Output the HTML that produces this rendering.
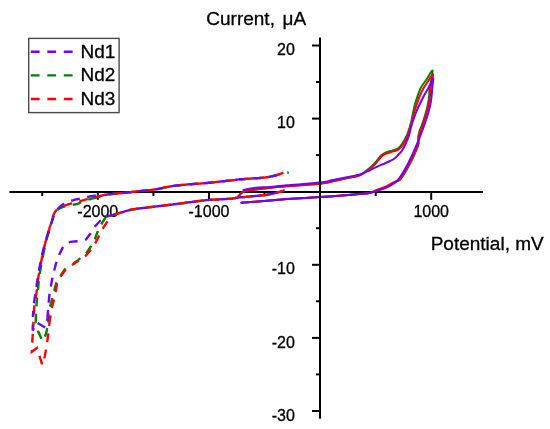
<!DOCTYPE html>
<html><head><meta charset="utf-8"><title>Cyclic voltammogram</title>
<style>html,body{margin:0;padding:0;background:#fff;}svg{display:block;}</style></head>
<body><svg width="550" height="429" viewBox="0 0 550 429">
<rect width="550" height="429" fill="#fff"/>
<line x1="9.5" y1="192" x2="483" y2="192" stroke="#000" stroke-width="2"/>
<line x1="97.8" y1="192" x2="97.8" y2="199.8" stroke="#000" stroke-width="2"/>
<line x1="209.0" y1="192" x2="209.0" y2="199.8" stroke="#000" stroke-width="2"/>
<line x1="431.2" y1="192" x2="431.2" y2="199.8" stroke="#000" stroke-width="2"/>
<line x1="42.2" y1="192" x2="42.2" y2="196" stroke="#000" stroke-width="2"/>
<line x1="153.4" y1="192" x2="153.4" y2="196" stroke="#000" stroke-width="2"/>
<line x1="264.5" y1="192" x2="264.5" y2="196" stroke="#000" stroke-width="2"/>
<line x1="375.7" y1="192" x2="375.7" y2="196" stroke="#000" stroke-width="2"/>
<text x="97.8" y="216.6" font-family="'Liberation Sans', Arial, sans-serif" fill="#000" stroke="#000" stroke-width="0.3" font-size="16" text-anchor="middle">-2000</text>
<text x="209.0" y="216.6" font-family="'Liberation Sans', Arial, sans-serif" fill="#000" stroke="#000" stroke-width="0.3" font-size="16" text-anchor="middle">-1000</text>
<text x="431.2" y="216.6" font-family="'Liberation Sans', Arial, sans-serif" fill="#000" stroke="#000" stroke-width="0.3" font-size="16" text-anchor="middle">1000</text>
<text x="294.8" y="55.1" font-family="'Liberation Sans', Arial, sans-serif" fill="#000" stroke="#000" stroke-width="0.3" font-size="16" text-anchor="end">20</text>
<text x="294.8" y="128.2" font-family="'Liberation Sans', Arial, sans-serif" fill="#000" stroke="#000" stroke-width="0.3" font-size="16" text-anchor="end">10</text>
<text x="294.8" y="274.4" font-family="'Liberation Sans', Arial, sans-serif" fill="#000" stroke="#000" stroke-width="0.3" font-size="16" text-anchor="end">-10</text>
<text x="294.8" y="347.5" font-family="'Liberation Sans', Arial, sans-serif" fill="#000" stroke="#000" stroke-width="0.3" font-size="16" text-anchor="end">-20</text>
<text x="294.8" y="420.6" font-family="'Liberation Sans', Arial, sans-serif" fill="#000" stroke="#000" stroke-width="0.3" font-size="16" text-anchor="end">-30</text>
<text x="206.3" y="25.4" font-family="'Liberation Sans', Arial, sans-serif" fill="#000" stroke="#000" stroke-width="0.3" font-size="19">Current,</text>
<text x="282.5" y="25.2" font-family="'Liberation Sans', Arial, sans-serif" fill="#000" stroke="#000" stroke-width="0.3" font-size="19">&#956;A</text>
<text x="430.7" y="249.8" font-family="'Liberation Sans', Arial, sans-serif" fill="#000" stroke="#000" stroke-width="0.3" font-size="19">Potential, mV</text>
<path d="M288.8,172.7 288.4,172.7 287.9,172.6 287.3,172.5 286.6,172.5 285.9,172.4 285.1,172.4 284.3,172.5 283.5,172.6 283.0,172.7 282.4,172.9 281.8,173.1 281.3,173.3 280.7,173.6 280.1,173.8 279.4,174.1 278.8,174.3 278.1,174.6 277.4,174.8 276.7,175.1 275.9,175.3 275.3,175.5 274.7,175.6 274.1,175.8 273.4,175.9 272.8,176.1 272.1,176.2 271.4,176.4 270.7,176.5 270.0,176.7 269.3,176.8 268.6,176.9 267.9,177.1 267.2,177.2 266.4,177.3 265.7,177.4 265.0,177.5 264.4,177.6 263.7,177.7 263.0,177.7 262.3,177.8 261.6,177.9 260.9,177.9 260.2,178.0 259.5,178.0 258.8,178.1 258.1,178.1 257.4,178.1 256.8,178.2 256.1,178.2 255.4,178.2 254.8,178.3 254.2,178.3 253.6,178.4 253.0,178.4 252.2,178.5 251.4,178.5 250.6,178.6 249.9,178.6 249.2,178.7 248.5,178.7 247.9,178.8 247.2,178.8 246.6,178.9 245.9,178.9 245.3,179.0 244.7,179.0 244.0,179.1 243.2,179.1 242.5,179.2 241.8,179.2 241.1,179.2 240.5,179.3 239.8,179.3 239.2,179.4 238.6,179.4 238.0,179.5 237.3,179.6 236.7,179.7 236.3,179.7 235.8,179.8 235.2,179.9 234.3,180.1 233.2,180.2 232.7,180.3 232.2,180.3 231.6,180.4 231.0,180.4 230.4,180.5 229.8,180.6 229.1,180.6 228.4,180.7 227.7,180.8 227.0,180.8 226.2,180.9 225.5,181.0 224.7,181.1 224.0,181.2 223.2,181.2 222.5,181.3 221.7,181.4 221.0,181.5 220.3,181.5 219.6,181.6 218.9,181.7 218.2,181.7 217.5,181.8 216.9,181.9 216.2,182.0 215.5,182.1 214.8,182.1 214.1,182.2 213.4,182.3 212.8,182.4 212.1,182.5 211.4,182.5 210.7,182.6 210.0,182.7 209.3,182.8 208.6,182.8 208.0,182.9 207.3,183.0 206.6,183.0 205.9,183.1 205.2,183.2 204.5,183.2 203.9,183.3 203.2,183.3 202.5,183.4 201.8,183.4 201.1,183.5 200.5,183.5 199.8,183.6 199.1,183.6 198.4,183.7 197.7,183.7 197.1,183.8 196.4,183.8 195.7,183.8 195.0,183.9 194.3,183.9 193.7,184.0 193.0,184.0 192.3,184.1 191.6,184.2 190.9,184.2 190.2,184.3 189.5,184.3 188.8,184.4 188.1,184.4 187.4,184.5 186.6,184.6 185.9,184.6 185.2,184.7 184.5,184.7 183.8,184.8 183.1,184.9 182.4,184.9 181.8,185.0 181.1,185.0 180.5,185.1 179.8,185.2 179.2,185.2 178.6,185.3 177.8,185.4 177.1,185.5 176.4,185.6 175.7,185.6 175.0,185.7 174.3,185.8 173.7,185.9 173.0,186.0 172.4,186.1 171.8,186.2 171.2,186.3 170.6,186.4 169.9,186.5 169.3,186.6 168.7,186.7 168.0,186.8 167.4,186.9 166.7,187.1 166.1,187.2 165.4,187.4 164.8,187.5 164.2,187.6 163.6,187.8 162.9,187.9 162.3,188.1 161.7,188.2 161.1,188.4 160.4,188.5 159.8,188.6 159.1,188.7 158.5,188.8 157.8,189.0 157.2,189.1 156.5,189.2 155.9,189.3 155.3,189.4 154.6,189.5 153.9,189.6 153.2,189.7 152.5,189.8 151.7,189.9 150.9,190.0 150.3,190.1 149.7,190.1 149.1,190.2 148.5,190.3 147.8,190.3 147.2,190.4 146.5,190.4 145.8,190.5 145.1,190.6 144.4,190.6 143.7,190.7 143.0,190.7 142.3,190.8 141.6,190.9 140.9,190.9 140.2,191.0 139.6,191.1 138.9,191.1 138.2,191.2 137.5,191.3 136.9,191.3 136.2,191.4 135.5,191.5 134.9,191.6 134.2,191.7 133.5,191.7 132.9,191.8 132.2,191.9 131.5,192.0 130.9,192.1 130.2,192.2 129.5,192.2 128.8,192.3 128.2,192.4 127.5,192.5 126.8,192.6 126.2,192.6 125.5,192.7 124.8,192.8 124.1,192.8 123.4,192.9 122.7,193.0 122.0,193.0 121.3,193.1 120.6,193.2 119.9,193.2 119.1,193.3 118.4,193.4 117.7,193.4 117.0,193.5 116.4,193.6 115.7,193.6 115.1,193.7 114.4,193.7 113.8,193.8 113.3,193.8 112.7,193.9 111.9,194.0 111.1,194.1 110.4,194.1 109.8,194.2 109.1,194.2 108.5,194.3 107.9,194.3 107.4,194.4 106.8,194.5 106.2,194.6 105.6,194.7 105.0,194.8 104.4,194.9 103.7,195.1 103.1,195.3 102.5,195.5 101.8,195.7 101.2,195.9 100.6,196.2 99.9,196.4 99.3,196.6 98.7,196.8 98.0,197.0 97.4,197.2" fill="none" stroke="#008000" stroke-width="2.4" stroke-dasharray="8.9 7.5" stroke-dashoffset="7.30" stroke-linecap="butt" stroke-linejoin="miter" stroke-miterlimit="3"/>
<path d="M97.4,197.2 96.8,197.4 96.1,197.6 95.5,197.7 94.8,197.9 94.1,198.1 93.5,198.2 92.8,198.4 92.2,198.5 91.5,198.7 90.9,198.9 90.3,199.0 89.7,199.2 89.0,199.4 88.3,199.6 87.6,199.8 87.0,200.0 86.3,200.2 85.7,200.4 85.0,200.6 84.4,200.9 83.8,201.1 83.2,201.3 82.5,201.6 81.9,201.9 81.3,202.2 80.7,202.5 80.1,202.8 79.5,203.1 78.9,203.3 78.3,203.6 77.7,203.8 77.0,204.0 76.4,204.1 75.7,204.3 75.1,204.4 74.4,204.5 73.7,204.6 73.0,204.7 72.3,204.8 71.7,204.9 71.0,205.0 70.4,205.2 69.7,205.3 69.0,205.5 68.3,205.6 67.6,205.7 67.0,205.9 66.3,206.0 65.7,206.2 65.0,206.4 64.4,206.5 63.8,206.7 63.2,206.9 62.6,207.1 62.0,207.3 61.4,207.5 60.8,207.7 60.3,208.0 59.7,208.3 59.1,208.7 58.5,209.1 57.9,209.5 57.3,209.9 56.8,210.3 56.3,210.8 55.9,211.2 55.5,211.7 55.1,212.2 54.8,212.6 54.5,213.2 54.2,213.7 54.0,214.3 53.7,215.0 53.5,215.5 53.3,216.1 53.1,216.7 52.9,217.4 52.7,218.0 52.6,218.7 52.4,219.4 52.2,220.1 52.0,220.8 51.8,221.5 51.6,222.1 51.4,222.8 51.3,223.4 51.1,224.1 50.9,224.8 50.7,225.5 50.5,226.1 50.3,226.8 50.1,227.4 50.0,228.0 49.8,228.6 49.6,229.3 49.4,229.8 49.3,230.4 49.1,230.9 49.0,231.4 48.8,232.0 48.6,232.6 48.4,233.2 48.2,234.0 48.0,234.5 47.9,235.1 47.7,235.7 47.5,236.3 47.3,236.9 47.2,237.5 47.0,238.2 46.8,238.8 46.6,239.5 46.4,240.2 46.2,240.9 46.0,241.7 45.8,242.4 45.6,243.2 45.5,243.8 45.3,244.4 45.2,245.0 45.1,245.6 44.9,246.2 44.8,246.9 44.6,247.5 44.5,248.2 44.4,248.9 44.2,249.5 44.1,250.2 44.0,250.9 43.8,251.6 43.7,252.3 43.5,253.0 43.4,253.7 43.3,254.4 43.1,255.1 43.0,255.8" fill="none" stroke="#008000" stroke-width="2.4" stroke-dasharray="8.9 7.5" stroke-dashoffset="15.75" stroke-linecap="butt" stroke-linejoin="miter" stroke-miterlimit="3"/>
<path d="M43.0,255.8 42.9,256.4 42.7,257.1 42.6,257.8 42.5,258.4 42.4,259.1 42.2,259.8 42.1,260.5 42.0,261.2 41.8,261.8 41.7,262.5 41.6,263.2 41.4,263.9 41.3,264.6 41.2,265.3 41.1,266.0 40.9,266.6 40.8,267.3 40.7,267.9 40.6,268.6 40.5,269.2 40.4,269.8 40.3,270.5 40.2,271.2 40.1,272.0 39.9,272.6 39.8,273.3 39.7,274.0 39.6,274.6 39.5,275.3 39.5,275.9 39.4,276.6 39.3,277.2 39.2,277.8 39.1,278.5 39.0,279.1 39.0,279.7 38.9,280.4 38.8,281.0 38.7,281.7 38.6,282.4 38.6,283.0 38.5,283.7 38.4,284.4 38.4,285.0 38.3,285.7 38.3,286.3 38.2,287.0 38.2,287.6 38.1,288.3 38.1,289.0 38.0,289.6 37.9,290.3 37.9,291.0 37.8,291.7 37.7,292.4 37.7,293.0 37.6,293.7 37.5,294.4 37.4,295.0 37.4,295.7 37.3,296.4 37.2,297.1 37.1,297.8 37.1,298.5 37.0,299.2 36.9,299.9 36.8,300.5 36.8,301.2 36.7,301.9 36.7,302.6 36.6,303.3 36.5,304.0 36.5,304.7 36.5,305.5 36.4,306.3 36.4,307.1 36.3,307.9 36.3,308.7 36.2,309.5 36.2,310.3 36.2,311.0 36.1,311.7 36.1,312.4 36.1,313.0 36.1,313.6 36.0,314.2 36.0,314.6 36.0,315.0 35.7,322.4" fill="none" stroke="#008000" stroke-width="2.4" stroke-dasharray="8.9 7.5" stroke-dashoffset="7.00" stroke-linecap="butt" stroke-linejoin="miter" stroke-miterlimit="3"/>
<path d="M35.7,322.4 38.1,331.3 42.5,341.0 44.6,338.2 46.5,331.7 48.3,322.4" fill="none" stroke="#008000" stroke-width="2.4" stroke-dasharray="8.9 7.5" stroke-dashoffset="7.88" stroke-linecap="butt" stroke-linejoin="miter" stroke-miterlimit="3"/>
<path d="M48.3,322.4 48.5,315.0 49.5,308.0 51.1,303.0 53.8,292.0 56.3,283.0 60.7,275.3 65.6,268.4 71.9,264.4" fill="none" stroke="#008000" stroke-width="2.4" stroke-dasharray="8.9 7.5" stroke-dashoffset="0.50" stroke-linecap="butt" stroke-linejoin="miter" stroke-miterlimit="3"/>
<path d="M71.9,264.4 78.3,259.9 86.0,253.5 90.5,247.0 95.0,238.7 97.6,231.7 101.4,224.0 105.9,216.9" fill="none" stroke="#008000" stroke-width="2.4" stroke-dasharray="8.9 7.5" stroke-dashoffset="14.75" stroke-linecap="butt" stroke-linejoin="miter" stroke-miterlimit="3"/>
<path d="M284.6,190.6 284.2,190.7 283.7,190.8 283.2,191.0 282.5,191.1 281.8,191.3 281.1,191.5 280.3,191.7 279.6,191.9 278.8,192.1 278.0,192.3 277.3,192.5 276.6,192.6 275.9,192.8 275.2,193.0 274.6,193.1 273.9,193.3 273.3,193.5 272.7,193.6 272.0,193.8 271.4,193.9 270.8,194.1 270.2,194.2 269.6,194.4 269.0,194.5 268.4,194.6 267.7,194.7 267.1,194.8 266.5,194.9 265.9,195.0 265.2,195.0 264.6,195.1 264.0,195.2 263.4,195.2 262.7,195.3 262.1,195.3 261.4,195.4 260.8,195.5 260.1,195.5 259.5,195.6 258.8,195.7 258.1,195.7 257.5,195.8 256.8,195.9 256.1,195.9 255.4,196.0 254.7,196.1 254.0,196.1 253.3,196.2 252.7,196.3 252.0,196.3 251.3,196.4 250.7,196.5 250.0,196.5 249.3,196.6 248.6,196.6 247.9,196.7 247.3,196.8 246.6,196.8 246.0,196.9 245.3,196.9 244.7,197.0 244.0,197.1 243.2,197.1 242.5,197.2 241.8,197.2 241.1,197.3 240.4,197.3 239.7,197.4 239.1,197.4 238.5,197.5 237.9,197.5 237.3,197.6 236.6,197.7 236.0,197.8 235.5,198.0 235.0,198.1 234.4,198.2 233.7,198.4 232.7,198.5 232.2,198.6 231.7,198.6 231.1,198.7 230.5,198.7 229.8,198.8 229.2,198.8 228.5,198.9 227.8,198.9 227.0,199.0 226.3,199.0 225.6,199.1 224.8,199.1 224.0,199.2 223.3,199.2 222.5,199.3 221.8,199.3 221.2,199.3 220.5,199.4 219.9,199.4 219.3,199.4 218.6,199.4 218.0,199.5 217.3,199.5 216.7,199.5 216.0,199.5 215.3,199.6 214.7,199.6 214.0,199.6 213.3,199.6 212.6,199.7 211.9,199.7 211.2,199.7 210.5,199.8 209.8,199.8 209.1,199.9 208.4,200.0 207.8,200.0 207.1,200.1 206.5,200.1 205.8,200.2 205.2,200.3 204.5,200.4 203.8,200.4 203.2,200.5 202.5,200.6 201.8,200.7 201.1,200.8 200.4,200.9 199.7,200.9 199.0,201.0 198.3,201.1 197.5,201.2 196.8,201.3 196.0,201.4 195.3,201.5 194.5,201.6 193.9,201.7 193.3,201.8 192.6,201.8 192.0,201.9 191.4,202.0 190.7,202.1 190.1,202.2 189.4,202.3 188.7,202.4 188.1,202.4 187.4,202.5 186.7,202.6 186.0,202.7 185.3,202.8 184.6,202.9 184.0,203.0 183.3,203.1 182.6,203.2 181.9,203.3 181.2,203.4 180.5,203.5 179.8,203.6 179.1,203.6 178.4,203.7 177.8,203.8 177.1,203.9 176.4,204.0 175.7,204.1 175.1,204.2 174.4,204.3 173.7,204.3 173.0,204.4 172.4,204.5 171.7,204.6 171.0,204.7 170.3,204.7 169.7,204.8 169.0,204.9 168.3,205.0 167.6,205.1 167.0,205.2 166.3,205.2 165.6,205.3 164.9,205.4 164.3,205.5 163.6,205.6 162.9,205.6 162.2,205.7 161.6,205.8 160.9,205.9 160.2,206.0 159.5,206.0 158.9,206.1 158.2,206.2 157.5,206.3 156.8,206.4 156.1,206.4 155.4,206.5 154.7,206.6 154.0,206.7 153.3,206.8 152.5,206.9 151.8,207.0 151.1,207.0 150.3,207.1 149.6,207.2 148.9,207.3 148.2,207.4 147.5,207.5 146.8,207.6 146.1,207.6 145.4,207.7 144.7,207.8 144.1,207.9 143.4,208.0 142.8,208.0 142.2,208.1 141.6,208.2 141.1,208.3 140.5,208.3 140.0,208.4 139.1,208.5 138.2,208.6 137.4,208.7 136.7,208.8 136.1,208.9 135.5,209.0 134.9,209.1 134.3,209.2 133.8,209.2 133.2,209.3 132.6,209.4 132.1,209.5 131.5,209.7 130.8,209.8 130.2,209.9 129.5,210.1 128.8,210.3 128.1,210.4 127.5,210.6 126.8,210.8 126.1,211.0 125.4,211.2 124.7,211.4 124.0,211.6 123.4,211.8 122.8,212.0 122.1,212.2 121.6,212.3 121.0,212.5 120.2,212.7 119.5,213.0 118.9,213.2 118.3,213.4 117.7,213.6 117.1,213.8 116.5,214.0 115.9,214.2 115.2,214.4 114.5,214.6 113.9,214.8 113.2,215.0 112.5,215.2 111.7,215.4 111.0,215.6 110.2,215.8 109.4,216.0 108.7,216.2 108.0,216.4 107.3,216.5 106.8,216.7 106.3,216.8 105.9,216.9" fill="none" stroke="#008000" stroke-width="2.4" stroke-dasharray="8.9 7.5" stroke-dashoffset="0.00" stroke-linecap="butt" stroke-linejoin="miter" stroke-miterlimit="3"/>
<path d="M283.5,172.6 283.1,172.7 282.7,172.9 282.2,173.1 281.7,173.3 281.0,173.6 280.4,173.8 279.7,174.1 279.0,174.3 278.2,174.6 277.4,174.8 276.7,175.1 275.9,175.3 275.3,175.5 274.7,175.6 274.1,175.8 273.4,175.9 272.8,176.1 272.1,176.2 271.4,176.4 270.7,176.5 270.0,176.7 269.3,176.8 268.6,176.9 267.9,177.1 267.2,177.2 266.4,177.3 265.7,177.4 265.0,177.5 264.4,177.6 263.7,177.7 263.0,177.7 262.3,177.8 261.6,177.9 260.9,177.9 260.2,178.0 259.5,178.0 258.8,178.1 258.1,178.1 257.4,178.1 256.8,178.2 256.1,178.2 255.4,178.2 254.8,178.3 254.2,178.3 253.6,178.4 253.0,178.4 252.2,178.5 251.4,178.5 250.6,178.6 249.9,178.6 249.2,178.7 248.5,178.7 247.9,178.8 247.2,178.8 246.6,178.9 245.9,178.9 245.3,179.0 244.7,179.0 244.0,179.1 243.2,179.1 242.5,179.2 241.8,179.2 241.1,179.2 240.5,179.3 239.8,179.3 239.2,179.4 238.6,179.4 238.0,179.5 237.3,179.6 236.7,179.7 236.3,179.7 235.8,179.8 235.2,179.9 234.3,180.1 233.2,180.2 232.7,180.3 232.2,180.3 231.6,180.4 231.0,180.4 230.4,180.5 229.8,180.6 229.1,180.6 228.4,180.7 227.7,180.8 227.0,180.8 226.2,180.9 225.5,181.0 224.7,181.1 224.0,181.2 223.2,181.2 222.5,181.3 221.7,181.4 221.0,181.5 220.3,181.5 219.6,181.6 218.9,181.7 218.2,181.7 217.5,181.8 216.9,181.9 216.2,182.0 215.5,182.1 214.8,182.1 214.1,182.2 213.4,182.3 212.8,182.4 212.1,182.5 211.4,182.5 210.7,182.6 210.0,182.7 209.3,182.8 208.6,182.8 208.0,182.9 207.3,183.0 206.6,183.0 205.9,183.1 205.2,183.2 204.5,183.2 203.9,183.3 203.2,183.3 202.5,183.4 201.8,183.4 201.1,183.5 200.5,183.5 199.8,183.6 199.1,183.6 198.4,183.7 197.7,183.7 197.1,183.8 196.4,183.8 195.7,183.8 195.0,183.9 194.3,183.9 193.7,184.0 193.0,184.0 192.3,184.1 191.6,184.2 190.9,184.2 190.2,184.3 189.5,184.3 188.8,184.4 188.1,184.4 187.4,184.5 186.6,184.6 185.9,184.6 185.2,184.7 184.5,184.7 183.8,184.8 183.1,184.9 182.4,184.9 181.8,185.0 181.1,185.0 180.5,185.1 179.8,185.2 179.2,185.2 178.6,185.3 177.8,185.4 177.1,185.5 176.4,185.6 175.7,185.6 175.0,185.7 174.3,185.8 173.7,185.9 173.0,186.0 172.4,186.1 171.8,186.2 171.2,186.3 170.6,186.4 169.9,186.5 169.3,186.6 168.7,186.7 168.0,186.8 167.4,186.9 166.7,187.1 166.1,187.2 165.4,187.4 164.8,187.5 164.2,187.6 163.6,187.8 162.9,187.9 162.3,188.1 161.7,188.2 161.1,188.4 160.4,188.5 159.8,188.6 159.1,188.7 158.5,188.8 157.8,189.0 157.2,189.1 156.5,189.2 155.9,189.3 155.3,189.4 154.6,189.5 153.9,189.6 153.2,189.7 152.5,189.8 151.7,189.9 150.9,190.0 150.3,190.1 149.7,190.1 149.1,190.2 148.5,190.3 147.8,190.3 147.2,190.4 146.5,190.4 145.8,190.5 145.1,190.6 144.4,190.6 143.7,190.7 143.0,190.7 142.3,190.8 141.6,190.9 140.9,190.9 140.2,191.0 139.6,191.1 138.9,191.1 138.2,191.2 137.5,191.3 136.9,191.3 136.2,191.4 135.5,191.5 134.9,191.6 134.2,191.7 133.5,191.7 132.9,191.8 132.2,191.9 131.5,192.0 130.9,192.1 130.2,192.2 129.5,192.2 128.8,192.3 128.2,192.4 127.5,192.5 126.8,192.6 126.2,192.6 125.5,192.7 124.8,192.8 124.1,192.8 123.4,192.9 122.7,193.0 122.0,193.0 121.3,193.1 120.6,193.2 119.9,193.2 119.1,193.3 118.4,193.4 117.7,193.4 117.0,193.5 116.4,193.6 115.7,193.6 115.1,193.7 114.4,193.7 113.8,193.8 113.3,193.8 112.7,193.9 111.9,194.0 111.1,194.1 110.4,194.1 109.8,194.2 109.1,194.2 108.5,194.3 107.9,194.4 107.4,194.4 106.8,194.5 106.2,194.6 105.6,194.7 105.0,194.8 104.4,194.9 103.7,195.1 103.1,195.2 102.5,195.4 101.8,195.6 101.2,195.8 100.6,195.9 99.9,196.1 99.3,196.3 98.7,196.5 98.0,196.6 97.4,196.8" fill="none" stroke="#ff0000" stroke-width="2.4" stroke-dasharray="8.9 7.5" stroke-dashoffset="1.00" stroke-linecap="butt" stroke-linejoin="miter" stroke-miterlimit="3"/>
<path d="M97.4,196.8 96.8,196.9 96.1,197.1 95.5,197.2 94.8,197.3 94.1,197.4 93.5,197.5 92.8,197.7 92.2,197.8 91.5,197.9 90.9,198.0 90.3,198.2 89.7,198.3 89.0,198.5 88.4,198.7 87.8,198.8 87.2,199.0 86.7,199.2 86.1,199.4 85.4,199.6 84.8,199.8 84.0,200.1 83.2,200.3 82.7,200.4 82.1,200.6 81.5,200.8 80.8,200.9 80.2,201.1 79.5,201.3 78.8,201.5 78.1,201.7 77.4,201.8 76.7,202.0 76.0,202.2 75.3,202.4 74.7,202.6 74.0,202.7 73.4,202.9 72.8,203.1 72.3,203.2 71.5,203.4 70.7,203.7 70.0,203.9 69.3,204.1 68.7,204.3 68.0,204.4 67.5,204.6 66.9,204.8 66.3,205.0 65.7,205.2 65.0,205.4 64.4,205.6 63.8,205.8 63.2,206.0 62.6,206.2 62.0,206.4 61.4,206.6 60.8,206.9 60.3,207.2 59.8,207.5 59.2,207.9 58.7,208.3 58.2,208.7 57.6,209.1 57.2,209.5 56.7,210.0 56.3,210.4 55.9,210.8 55.5,211.3 55.1,211.8 54.8,212.2 54.5,212.7 54.3,213.2 54.0,213.8 53.7,214.5 53.5,215.0 53.3,215.6 53.1,216.2 52.9,216.8 52.7,217.5 52.4,218.2 52.2,218.9 52.0,219.6 51.8,220.3 51.6,221.0 51.4,221.6 51.2,222.2 51.0,222.9 50.9,223.5 50.7,224.2 50.5,224.9 50.3,225.5 50.1,226.2 49.9,226.8 49.7,227.4 49.6,228.0 49.4,228.6 49.2,229.3 49.0,229.9 48.9,230.4 48.7,230.9 48.5,231.5 48.4,232.0 48.2,232.6 48.0,233.2 47.8,234.0 47.6,234.5 47.5,235.1 47.3,235.7 47.1,236.3 47.0,236.9 46.8,237.5 46.6,238.2 46.4,238.8 46.2,239.5 46.0,240.2 45.8,240.9 45.6,241.7 45.4,242.4 45.2,243.2 45.1,243.8 44.9,244.4 44.8,245.0 44.6,245.6 44.5,246.2 44.3,246.9 44.2,247.5 44.0,248.2 43.9,248.9 43.7,249.5 43.6,250.2 43.4,250.9 43.3,251.6 43.1,252.3 43.0,253.0 42.8,253.7 42.7,254.4 42.5,255.1 42.4,255.8 42.3,256.4 42.1,257.1 42.0,257.8" fill="none" stroke="#ff0000" stroke-width="2.4" stroke-dasharray="8.9 7.5" stroke-dashoffset="6.50" stroke-linecap="butt" stroke-linejoin="miter" stroke-miterlimit="3"/>
<path d="M42.0,257.8 41.9,258.4 41.7,259.1 41.6,259.8 41.4,260.5 41.3,261.2 41.1,261.8 41.0,262.5 40.9,263.2 40.7,263.9 40.6,264.6 40.5,265.3 40.3,266.0 40.2,266.6 40.1,267.3 39.9,267.9 39.8,268.6 39.7,269.2 39.6,269.8 39.5,270.5 39.3,271.2 39.2,272.0 39.1,272.6 39.0,273.3 38.9,274.0 38.8,274.6 38.7,275.3 38.5,275.9 38.4,276.6 38.4,277.2 38.3,277.8 38.2,278.5 38.1,279.1 38.0,279.7 37.9,280.4 37.8,281.0 37.7,281.7 37.6,282.4 37.5,283.0 37.5,283.7 37.4,284.4 37.3,285.0 37.3,285.7 37.2,286.3 37.1,287.0 37.1,287.6 37.0,288.3 36.9,289.0 36.9,289.6 36.8,290.3 36.7,291.0 36.6,291.7 36.5,292.4 36.4,293.0 36.3,293.7 36.2,294.4 36.0,295.0 35.9,295.7 35.8,296.4 35.6,297.1 35.5,297.8 35.4,298.5 35.2,299.2 35.1,299.9 35.0,300.5 34.9,301.2 34.8,301.9 34.7,302.6 34.6,303.3 34.5,304.0 34.4,304.7 34.4,305.5 34.3,306.3 34.3,307.1 34.2,307.9 34.1,308.7 34.1,309.5 34.1,310.3 34.0,311.0 34.0,311.7 33.9,312.4 33.9,313.0 33.9,313.6 33.9,314.2 33.8,314.6 33.8,315.0 33.2,327.0" fill="none" stroke="#ff0000" stroke-width="2.4" stroke-dasharray="8.9 7.5" stroke-dashoffset="0.88" stroke-linecap="butt" stroke-linejoin="miter" stroke-miterlimit="3"/>
<path d="M33.2,327.0 32.4,340.0 31.8,351.8 36.9,348.0 42.3,365.0 44.6,357.0 46.5,347.0 48.0,336.0 49.6,322.0" fill="none" stroke="#ff0000" stroke-width="2.4" stroke-dasharray="8.9 7.5" stroke-dashoffset="9.62" stroke-linecap="butt" stroke-linejoin="miter" stroke-miterlimit="3"/>
<path d="M49.6,322.0 50.3,317.0 51.5,309.0 53.0,303.5 55.5,293.0 57.0,283.5 61.2,275.8 66.0,269.0 71.9,265.0" fill="none" stroke="#ff0000" stroke-width="2.4" stroke-dasharray="8.9 7.5" stroke-dashoffset="2.25" stroke-linecap="butt" stroke-linejoin="miter" stroke-miterlimit="3"/>
<path d="M71.9,265.0 79.0,260.5 85.4,256.0 89.9,250.9 95.6,242.6 98.8,236.2 103.3,227.8 107.8,220.8 109.5,217.0" fill="none" stroke="#ff0000" stroke-width="2.4" stroke-dasharray="8.9 7.5" stroke-dashoffset="0.62" stroke-linecap="butt" stroke-linejoin="miter" stroke-miterlimit="3"/>
<path d="M284.6,190.6 284.2,190.7 283.7,190.8 283.2,191.0 282.5,191.1 281.8,191.3 281.1,191.5 280.3,191.7 279.6,191.9 278.8,192.1 278.0,192.3 277.3,192.5 276.6,192.6 275.9,192.8 275.2,193.0 274.6,193.1 273.9,193.3 273.3,193.5 272.7,193.6 272.0,193.8 271.4,193.9 270.8,194.1 270.2,194.2 269.6,194.4 269.0,194.5 268.4,194.6 267.7,194.7 267.1,194.8 266.5,194.9 265.9,195.0 265.2,195.0 264.6,195.1 264.0,195.2 263.4,195.2 262.7,195.3 262.1,195.3 261.4,195.4 260.8,195.5 260.1,195.5 259.5,195.6 258.8,195.7 258.1,195.7 257.5,195.8 256.8,195.9 256.1,195.9 255.4,196.0 254.7,196.1 254.0,196.1 253.3,196.2 252.7,196.3 252.0,196.3 251.3,196.4 250.7,196.5 250.0,196.5 249.3,196.6 248.6,196.6 247.9,196.7 247.3,196.8 246.6,196.8 246.0,196.9 245.3,196.9 244.7,197.0 244.0,197.1 243.2,197.1 242.5,197.2 241.8,197.2 241.1,197.3 240.4,197.3 239.7,197.4 239.1,197.4 238.5,197.5 237.9,197.5 237.3,197.6 236.6,197.7 236.0,197.8 235.5,198.0 235.0,198.1 234.4,198.2 233.7,198.4 232.7,198.5 232.2,198.6 231.7,198.6 231.1,198.7 230.5,198.7 229.8,198.8 229.2,198.8 228.5,198.9 227.8,198.9 227.0,199.0 226.3,199.0 225.6,199.1 224.8,199.1 224.0,199.2 223.3,199.2 222.5,199.3 221.8,199.3 221.2,199.3 220.5,199.4 219.9,199.4 219.3,199.4 218.6,199.4 218.0,199.5 217.3,199.5 216.7,199.5 216.0,199.5 215.3,199.6 214.7,199.6 214.0,199.6 213.3,199.6 212.6,199.7 211.9,199.7 211.2,199.7 210.5,199.8 209.8,199.8 209.1,199.9 208.4,200.0 207.8,200.0 207.1,200.1 206.5,200.1 205.8,200.2 205.2,200.3 204.5,200.4 203.8,200.4 203.2,200.5 202.5,200.6 201.8,200.7 201.1,200.8 200.4,200.9 199.7,200.9 199.0,201.0 198.3,201.1 197.5,201.2 196.8,201.3 196.0,201.4 195.3,201.5 194.5,201.6 193.9,201.7 193.3,201.8 192.6,201.8 192.0,201.9 191.4,202.0 190.7,202.1 190.1,202.2 189.4,202.3 188.7,202.4 188.1,202.4 187.4,202.5 186.7,202.6 186.0,202.7 185.3,202.8 184.6,202.9 184.0,203.0 183.3,203.1 182.6,203.2 181.9,203.3 181.2,203.4 180.5,203.5 179.8,203.6 179.1,203.6 178.4,203.7 177.8,203.8 177.1,203.9 176.4,204.0 175.7,204.1 175.1,204.2 174.4,204.3 173.7,204.3 173.0,204.4 172.4,204.5 171.7,204.6 171.0,204.7 170.3,204.7 169.7,204.8 169.0,204.9 168.3,205.0 167.6,205.1 167.0,205.2 166.3,205.2 165.6,205.3 164.9,205.4 164.3,205.5 163.6,205.6 162.9,205.6 162.2,205.7 161.6,205.8 160.9,205.9 160.2,206.0 159.5,206.0 158.9,206.1 158.2,206.2 157.5,206.3 156.8,206.4 156.1,206.4 155.4,206.5 154.7,206.6 154.0,206.7 153.3,206.8 152.5,206.9 151.8,207.0 151.1,207.0 150.3,207.1 149.6,207.2 148.9,207.3 148.2,207.4 147.5,207.5 146.8,207.6 146.1,207.6 145.4,207.7 144.7,207.8 144.1,207.9 143.4,208.0 142.8,208.0 142.2,208.1 141.6,208.2 141.1,208.3 140.5,208.3 140.0,208.4 139.1,208.5 138.2,208.6 137.4,208.7 136.7,208.8 136.1,208.9 135.5,209.0 134.9,209.1 134.3,209.2 133.8,209.2 133.2,209.3 132.6,209.4 132.1,209.5 131.5,209.7 130.8,209.8 130.2,209.9 129.5,210.1 128.8,210.3 128.1,210.4 127.5,210.6 126.8,210.8 126.1,211.0 125.4,211.2 124.7,211.4 124.0,211.6 123.4,211.8 122.8,212.0 122.1,212.2 121.6,212.3 121.0,212.5 120.2,212.7 119.5,213.0 118.8,213.2 118.1,213.4 117.5,213.6 116.8,213.8 116.2,214.0 115.7,214.2 115.1,214.4 114.5,214.6 113.8,214.9 113.0,215.2 112.3,215.6 111.6,215.9 110.9,216.3 110.4,216.6 109.9,216.8 109.5,217.0" fill="none" stroke="#ff0000" stroke-width="2.4" stroke-dasharray="8.9 7.5" stroke-dashoffset="15.88" stroke-linecap="butt" stroke-linejoin="miter" stroke-miterlimit="3"/>
<path d="M283.5,172.6 283.1,172.7 282.7,172.9 282.2,173.1 281.7,173.3 281.0,173.6 280.4,173.8 279.7,174.1 279.0,174.3 278.2,174.6 277.4,174.8 276.7,175.1 275.9,175.3 275.3,175.5 274.7,175.6 274.1,175.8 273.4,175.9 272.8,176.1 272.1,176.2 271.4,176.4 270.7,176.5 270.0,176.7 269.3,176.8 268.6,176.9 267.9,177.1 267.2,177.2 266.4,177.3 265.7,177.4 265.0,177.5 264.4,177.6 263.7,177.7 263.0,177.7 262.3,177.8 261.6,177.9 260.9,177.9 260.2,178.0 259.5,178.0 258.8,178.1 258.1,178.1 257.4,178.1 256.8,178.2 256.1,178.2 255.4,178.2 254.8,178.3 254.2,178.3 253.6,178.4 253.0,178.4 252.2,178.5 251.4,178.5 250.6,178.6 249.9,178.6 249.2,178.7 248.5,178.7 247.9,178.8 247.2,178.8 246.6,178.9 245.9,178.9 245.3,179.0 244.7,179.0 244.0,179.1 243.2,179.1 242.5,179.2 241.8,179.2 241.1,179.2 240.5,179.3 239.8,179.3 239.2,179.4 238.6,179.4 238.0,179.5 237.3,179.6 236.7,179.7 236.3,179.7 235.8,179.8 235.2,179.9 234.3,180.1 233.2,180.2 232.7,180.3 232.2,180.3 231.6,180.4 231.0,180.4 230.4,180.5 229.8,180.6 229.1,180.6 228.4,180.7 227.7,180.8 227.0,180.8 226.2,180.9 225.5,181.0 224.7,181.1 224.0,181.2 223.2,181.2 222.5,181.3 221.7,181.4 221.0,181.5 220.3,181.5 219.6,181.6 218.9,181.7 218.2,181.7 217.5,181.8 216.9,181.9 216.2,182.0 215.5,182.1 214.8,182.1 214.1,182.2 213.4,182.3 212.8,182.4 212.1,182.5 211.4,182.5 210.7,182.6 210.0,182.7 209.3,182.8 208.6,182.8 208.0,182.9 207.3,183.0 206.6,183.0 205.9,183.1 205.2,183.2 204.5,183.2 203.9,183.3 203.2,183.3 202.5,183.4 201.8,183.4 201.1,183.5 200.5,183.5 199.8,183.6 199.1,183.6 198.4,183.7 197.7,183.7 197.1,183.8 196.4,183.8 195.7,183.8 195.0,183.9 194.3,183.9 193.7,184.0 193.0,184.0 192.3,184.1 191.6,184.2 190.9,184.2 190.2,184.3 189.5,184.3 188.8,184.4 188.1,184.4 187.4,184.5 186.6,184.6 185.9,184.6 185.2,184.7 184.5,184.7 183.8,184.8 183.1,184.9 182.4,184.9 181.8,185.0 181.1,185.0 180.5,185.1 179.8,185.2 179.2,185.2 178.6,185.3 177.8,185.4 177.1,185.5 176.4,185.6 175.7,185.6 175.0,185.7 174.3,185.8 173.7,185.9 173.0,186.0 172.4,186.1 171.8,186.2 171.2,186.3 170.6,186.4 169.9,186.5 169.3,186.6 168.7,186.7 168.0,186.8 167.4,186.9 166.7,187.1 166.1,187.2 165.4,187.4 164.8,187.5 164.2,187.6 163.6,187.8 162.9,187.9 162.3,188.1 161.7,188.2 161.1,188.4 160.4,188.5 159.8,188.6 159.1,188.7 158.5,188.8 157.8,189.0 157.2,189.1 156.5,189.2 155.9,189.3 155.3,189.4 154.6,189.5 153.9,189.6 153.2,189.7 152.5,189.8 151.7,189.9 150.9,190.0 150.3,190.1 149.7,190.1 149.1,190.2 148.5,190.3 147.8,190.3 147.2,190.4 146.5,190.4 145.8,190.5 145.1,190.6 144.4,190.6 143.7,190.7 143.0,190.7 142.3,190.8 141.6,190.9 140.9,190.9 140.2,191.0 139.6,191.1 138.9,191.1 138.2,191.2 137.5,191.3 136.9,191.3 136.2,191.4 135.5,191.5 134.9,191.6 134.2,191.7 133.5,191.7 132.9,191.8 132.2,191.9 131.5,192.0 130.9,192.1 130.2,192.2 129.5,192.2 128.8,192.3 128.2,192.4 127.5,192.5 126.8,192.6 126.2,192.6 125.5,192.7 124.8,192.8 124.1,192.8 123.4,192.9 122.7,193.0 122.0,193.0 121.3,193.1 120.6,193.2 119.9,193.2 119.1,193.3 118.4,193.4 117.7,193.4 117.0,193.5 116.4,193.6 115.7,193.6 115.1,193.7 114.4,193.7 113.8,193.8 113.3,193.8 112.7,193.9 111.9,194.0 111.1,194.1 110.4,194.2 109.8,194.2 109.1,194.3 108.5,194.4 107.9,194.5 107.4,194.5 106.8,194.6 106.2,194.7 105.6,194.7 105.0,194.8 104.3,194.9 103.6,194.9 102.9,195.0 102.2,195.0 101.5,195.1 100.9,195.1 100.2,195.2 99.5,195.2 98.8,195.3 98.1,195.3 97.4,195.4" fill="none" stroke="#7000ff" stroke-width="2.4" stroke-dasharray="8.9 7.5" stroke-dashoffset="9.50" stroke-linecap="butt" stroke-linejoin="miter" stroke-miterlimit="3"/>
<path d="M97.4,195.4 96.8,195.5 96.1,195.5 95.5,195.6 94.9,195.7 94.3,195.8 93.7,195.9 93.1,195.9 92.4,196.0 91.8,196.1 91.1,196.3 90.4,196.4 89.7,196.5 89.1,196.6 88.5,196.7 87.8,196.9 87.2,197.0 86.5,197.1 85.8,197.3 85.1,197.4 84.4,197.6 83.7,197.7 83.0,197.9 82.4,198.0 81.7,198.2 81.1,198.3 80.5,198.5 79.9,198.6 79.2,198.8 78.5,198.9 77.8,199.1 77.2,199.2 76.6,199.3 75.9,199.4 75.3,199.6 74.7,199.7 74.1,199.9 73.5,200.1 72.8,200.3 72.2,200.5 71.6,200.7 70.9,200.9 70.3,201.1 69.6,201.3 69.0,201.6 68.3,201.8 67.7,202.1 67.0,202.3 66.4,202.6 65.8,202.9 65.2,203.2 64.6,203.5 64.0,203.9 63.4,204.2 62.8,204.6 62.2,205.0 61.6,205.4 61.1,205.8 60.5,206.3 60.0,206.7 59.5,207.1 59.0,207.6 58.5,208.0 58.1,208.5 57.6,209.0 57.2,209.5 56.8,210.1 56.5,210.6 56.1,211.1 55.8,211.7 55.5,212.2 55.1,212.8 54.9,213.4 54.6,213.9 54.3,214.5 54.0,215.1 53.8,215.8 53.5,216.4 53.3,217.1 53.1,217.8 52.9,218.4 52.7,219.1 52.5,219.8 52.3,220.4 52.1,221.0 51.9,221.6 51.6,222.3 51.4,222.8 51.2,223.4 50.9,224.0 50.7,224.6 50.5,225.2 50.2,225.8 50.0,226.5 49.8,227.0 49.6,227.6 49.5,228.2 49.3,228.8 49.1,229.4 49.0,230.0 48.8,230.7 48.6,231.3 48.4,232.0 48.2,232.6 48.0,233.3 47.8,234.0 47.6,234.6 47.4,235.2 47.2,235.8 47.0,236.4 46.8,237.0 46.6,237.6 46.4,238.3 46.2,238.9 46.0,239.6 45.8,240.3 45.5,241.0 45.3,241.7 45.1,242.4 44.9,243.2 44.7,243.8 44.6,244.4 44.4,245.0 44.3,245.6 44.1,246.2 44.0,246.9 43.8,247.5 43.6,248.2 43.5,248.9 43.3,249.5 43.2,250.2 43.0,250.9 42.8,251.6 42.7,252.3 42.5,253.0 42.4,253.7 42.2,254.4 42.1,255.1 41.9,255.8" fill="none" stroke="#7000ff" stroke-width="2.4" stroke-dasharray="8.9 7.5" stroke-dashoffset="14.88" stroke-linecap="butt" stroke-linejoin="miter" stroke-miterlimit="3"/>
<path d="M41.9,255.8 41.8,256.4 41.6,257.1 41.5,257.8 41.3,258.4 41.2,259.1 41.1,259.8 40.9,260.5 40.8,261.2 40.6,261.8 40.5,262.5 40.4,263.2 40.2,263.9 40.1,264.6 40.0,265.3 39.8,266.0 39.7,266.6 39.6,267.3 39.5,267.9 39.3,268.6 39.2,269.2 39.1,269.8 39.0,270.5 38.8,271.2 38.7,272.0 38.6,272.6 38.5,273.3 38.3,274.0 38.2,274.6 38.1,275.3 38.0,275.9 37.9,276.6 37.8,277.2 37.7,277.8 37.6,278.5 37.5,279.1 37.4,279.7 37.3,280.4 37.2,281.0 37.1,281.7 37.0,282.4 36.9,283.0 36.8,283.7 36.7,284.4 36.7,285.0 36.6,285.7 36.5,286.3 36.4,287.0 36.3,287.6 36.3,288.3 36.2,289.0 36.1,289.6 36.0,290.3 35.9,291.0 35.8,291.7 35.7,292.4 35.6,293.0 35.5,293.7 35.4,294.4 35.2,295.0 35.1,295.7 35.0,296.4 34.9,297.1 34.8,297.8 34.6,298.5 34.5,299.2 34.4,299.9 34.3,300.5 34.2,301.2 34.1,301.9 34.0,302.6 33.9,303.3 33.8,304.0 33.7,304.7 33.7,305.5 33.6,306.3 33.5,307.1 33.5,307.9 33.4,308.7 33.4,309.5 33.3,310.3 33.3,311.0 33.2,311.7 33.2,312.4 33.1,313.0 33.1,313.6 33.1,314.2 33.0,314.6 33.0,315.0" fill="none" stroke="#7000ff" stroke-width="2.4" stroke-dasharray="8.9 7.5" stroke-dashoffset="9.88" stroke-linecap="butt" stroke-linejoin="miter" stroke-miterlimit="3"/>
<path d="M33.0,315.0 32.7,330.5 36.5,322.3 45.5,327.8 47.4,318.7" fill="none" stroke="#7000ff" stroke-width="2.4" stroke-dasharray="8.9 7.5" stroke-dashoffset="7.00" stroke-linecap="butt" stroke-linejoin="miter" stroke-miterlimit="3"/>
<path d="M47.4,318.7 48.8,301.0 49.6,293.0 52.0,280.0 53.0,275.3 55.8,264.2 59.3,254.4 62.8,247.4 66.5,243.0 70.0,241.9" fill="none" stroke="#7000ff" stroke-width="2.4" stroke-dasharray="8.9 7.5" stroke-dashoffset="0.38" stroke-linecap="butt" stroke-linejoin="miter" stroke-miterlimit="3"/>
<path d="M70.0,241.9 77.0,241.3 86.0,239.4 90.5,233.6 95.0,226.5 100.1,220.8 106.8,216.4" fill="none" stroke="#7000ff" stroke-width="2.4" stroke-dasharray="8.9 7.5" stroke-dashoffset="1.25" stroke-linecap="butt" stroke-linejoin="miter" stroke-miterlimit="3"/>
<path d="M284.6,190.6 284.2,190.7 283.7,190.8 283.2,191.0 282.5,191.1 281.8,191.3 281.1,191.5 280.3,191.7 279.6,191.9 278.8,192.1 278.0,192.3 277.3,192.5 276.6,192.6 275.9,192.8 275.2,193.0 274.6,193.1 273.9,193.3 273.3,193.5 272.7,193.6 272.0,193.8 271.4,193.9 270.8,194.1 270.2,194.2 269.6,194.4 269.0,194.5 268.4,194.6 267.7,194.7 267.1,194.8 266.5,194.9 265.9,195.0 265.2,195.0 264.6,195.1 264.0,195.2 263.4,195.2 262.7,195.3 262.1,195.3 261.4,195.4 260.8,195.5 260.1,195.5 259.5,195.6 258.8,195.7 258.1,195.7 257.5,195.8 256.8,195.9 256.1,195.9 255.4,196.0 254.7,196.1 254.0,196.1 253.3,196.2 252.7,196.3 252.0,196.3 251.3,196.4 250.7,196.5 250.0,196.5 249.3,196.6 248.6,196.6 247.9,196.7 247.3,196.8 246.6,196.8 246.0,196.9 245.3,196.9 244.7,197.0 244.0,197.1 243.2,197.1 242.5,197.2 241.8,197.2 241.1,197.3 240.4,197.3 239.7,197.4 239.1,197.4 238.5,197.5 237.9,197.5 237.3,197.6 236.6,197.7 236.0,197.8 235.5,198.0 235.0,198.1 234.4,198.2 233.7,198.4 232.7,198.5 232.2,198.6 231.7,198.6 231.1,198.7 230.5,198.7 229.8,198.8 229.2,198.8 228.5,198.9 227.8,198.9 227.0,199.0 226.3,199.0 225.6,199.1 224.8,199.1 224.0,199.2 223.3,199.2 222.5,199.3 221.8,199.3 221.2,199.3 220.5,199.4 219.9,199.4 219.3,199.4 218.6,199.4 218.0,199.5 217.3,199.5 216.7,199.5 216.0,199.5 215.3,199.6 214.7,199.6 214.0,199.6 213.3,199.6 212.6,199.7 211.9,199.7 211.2,199.7 210.5,199.8 209.8,199.8 209.1,199.9 208.4,200.0 207.8,200.0 207.1,200.1 206.5,200.1 205.8,200.2 205.2,200.3 204.5,200.4 203.8,200.4 203.2,200.5 202.5,200.6 201.8,200.7 201.1,200.8 200.4,200.9 199.7,200.9 199.0,201.0 198.3,201.1 197.5,201.2 196.8,201.3 196.0,201.4 195.3,201.5 194.5,201.6 193.9,201.7 193.3,201.8 192.6,201.8 192.0,201.9 191.4,202.0 190.7,202.1 190.1,202.2 189.4,202.3 188.7,202.4 188.1,202.4 187.4,202.5 186.7,202.6 186.0,202.7 185.3,202.8 184.6,202.9 184.0,203.0 183.3,203.1 182.6,203.2 181.9,203.3 181.2,203.4 180.5,203.5 179.8,203.6 179.1,203.6 178.4,203.7 177.8,203.8 177.1,203.9 176.4,204.0 175.7,204.1 175.1,204.2 174.4,204.3 173.7,204.3 173.0,204.4 172.4,204.5 171.7,204.6 171.0,204.7 170.3,204.7 169.7,204.8 169.0,204.9 168.3,205.0 167.6,205.1 167.0,205.2 166.3,205.2 165.6,205.3 164.9,205.4 164.3,205.5 163.6,205.6 162.9,205.6 162.2,205.7 161.6,205.8 160.9,205.9 160.2,206.0 159.5,206.0 158.9,206.1 158.2,206.2 157.5,206.3 156.8,206.4 156.1,206.4 155.4,206.5 154.7,206.6 154.0,206.7 153.3,206.8 152.5,206.9 151.8,207.0 151.1,207.0 150.3,207.1 149.6,207.2 148.9,207.3 148.2,207.4 147.5,207.5 146.8,207.6 146.1,207.6 145.4,207.7 144.7,207.8 144.1,207.9 143.4,208.0 142.8,208.0 142.2,208.1 141.6,208.2 141.1,208.3 140.5,208.3 140.0,208.4 139.1,208.5 138.2,208.6 137.4,208.7 136.7,208.8 136.1,208.9 135.5,209.0 134.9,209.1 134.3,209.2 133.8,209.2 133.2,209.3 132.6,209.4 132.1,209.5 131.5,209.7 130.8,209.8 130.2,209.9 129.5,210.1 128.8,210.3 128.1,210.4 127.5,210.6 126.8,210.8 126.1,211.0 125.4,211.2 124.7,211.4 124.0,211.6 123.4,211.8 122.8,212.0 122.1,212.2 121.6,212.3 121.0,212.5 120.2,212.7 119.5,213.0 118.8,213.2 118.2,213.4 117.6,213.6 117.0,213.8 116.4,214.0 115.8,214.2 115.2,214.4 114.5,214.6 113.9,214.8 113.2,214.9 112.5,215.1 111.7,215.3 111.0,215.5 110.2,215.6 109.5,215.8 108.8,215.9 108.2,216.1 107.7,216.2 107.2,216.3 106.8,216.4" fill="none" stroke="#7000ff" stroke-width="2.4" stroke-dasharray="8.9 7.5" stroke-dashoffset="8.12" stroke-linecap="butt" stroke-linejoin="miter" stroke-miterlimit="3"/>
<path d="M241.40,202.70 C243.67,202.55 250.23,202.15 255.00,201.80 C259.77,201.45 264.67,201.07 270.00,200.60 C275.33,200.13 278.67,199.58 287.00,199.00 C295.33,198.42 310.23,197.73 320.00,197.10 C329.77,196.47 338.93,195.72 345.60,195.20 C352.27,194.68 356.05,194.37 360.00,194.00 C363.95,193.63 366.30,193.67 369.30,193.00 C372.30,192.33 375.15,191.02 378.00,190.00 C380.85,188.98 383.73,188.10 386.40,186.90 C389.07,185.70 391.68,184.05 394.00,182.80 C396.32,181.55 398.62,180.87 400.30,179.40 C401.98,177.93 402.85,175.90 404.07,174.00 C405.29,172.10 406.51,170.00 407.64,168.00 C408.77,166.00 409.81,164.00 410.83,162.00 C411.85,160.00 412.81,158.00 413.74,156.00 C414.68,154.00 415.64,152.00 416.44,150.00 C417.24,148.00 418.23,146.00 418.54,144.00 C418.85,142.00 418.16,140.00 418.28,138.00 C418.40,136.00 418.73,134.00 419.26,132.00 C419.79,130.00 420.76,128.00 421.48,126.00 C422.20,124.00 422.90,122.00 423.56,120.00 C424.22,118.00 424.86,116.00 425.44,114.00 C426.02,112.00 426.58,110.00 427.06,108.00 C427.54,106.00 427.96,104.00 428.30,102.00 C428.64,100.00 428.85,98.33 429.10,96.00 C429.35,93.67 429.22,92.22 429.80,88.00 C430.38,83.78 433.15,72.12 432.60,70.70 C432.05,69.28 428.48,76.62 426.50,79.50 C424.52,82.38 422.18,85.25 420.70,88.00 C419.22,90.75 418.55,93.33 417.60,96.00 C416.65,98.67 415.73,101.33 415.00,104.00 C414.27,106.67 413.77,109.33 413.20,112.00 C412.63,114.67 412.22,117.33 411.60,120.00 C410.98,122.67 410.33,125.33 409.50,128.00 C408.67,130.67 407.85,133.33 406.60,136.00 C405.35,138.67 403.38,141.97 402.00,144.00 C400.62,146.03 399.85,147.13 398.30,148.20 C396.75,149.27 394.83,149.67 392.70,150.40 C390.57,151.13 387.35,151.83 385.50,152.60 C383.65,153.37 382.85,153.90 381.60,155.00 C380.35,156.10 379.22,157.77 378.00,159.20 C376.78,160.63 375.75,162.08 374.30,163.60 C372.85,165.12 371.68,166.40 369.30,168.30 C366.92,170.20 363.95,173.33 360.00,175.00 C356.05,176.67 352.27,176.87 345.60,178.30 C338.93,179.73 329.80,182.30 320.00,183.60 C310.20,184.90 295.97,185.32 286.80,186.10 C277.63,186.88 270.93,187.63 265.00,188.30 C259.07,188.97 254.15,189.73 251.20,190.10 C248.25,190.47 248.80,190.13 247.30,190.50 C245.80,190.87 243.88,191.12 242.20,192.30 C240.52,193.48 238.03,196.72 237.20,197.60" fill="none" stroke="#008000" stroke-width="2.0" stroke-linecap="round" stroke-linejoin="round"/>
<path d="M241.40,202.70 C243.67,202.55 250.23,202.15 255.00,201.80 C259.77,201.45 264.67,201.07 270.00,200.60 C275.33,200.13 278.67,199.58 287.00,199.00 C295.33,198.42 310.23,197.73 320.00,197.10 C329.77,196.47 338.93,195.72 345.60,195.20 C352.27,194.68 356.05,194.37 360.00,194.00 C363.95,193.63 366.30,193.77 369.30,193.00 C372.30,192.23 375.15,190.52 378.00,189.40 C380.85,188.28 383.73,187.50 386.40,186.30 C389.07,185.10 391.77,183.35 394.00,182.20 C396.23,181.05 398.21,180.77 399.80,179.40 C401.39,178.03 402.35,175.90 403.57,174.00 C404.79,172.10 406.01,170.00 407.14,168.00 C408.27,166.00 409.31,164.00 410.33,162.00 C411.35,160.00 412.31,158.00 413.24,156.00 C414.18,154.00 415.12,152.00 415.94,150.00 C416.76,148.00 417.71,146.00 418.17,144.00 C418.63,142.00 418.38,140.00 418.69,138.00 C419.00,136.00 419.46,134.00 420.06,132.00 C420.66,130.00 421.56,128.00 422.28,126.00 C423.00,124.00 423.70,122.00 424.36,120.00 C425.02,118.00 425.66,116.00 426.24,114.00 C426.82,112.00 427.38,110.00 427.86,108.00 C428.34,106.00 428.76,104.00 429.10,102.00 C429.44,100.00 429.65,98.33 429.90,96.00 C430.15,93.67 430.08,91.63 430.60,88.00 C431.12,84.37 433.38,75.37 433.00,74.20 C432.62,73.03 429.87,78.70 428.30,81.00 C426.73,83.30 425.03,85.50 423.60,88.00 C422.18,90.50 420.87,93.33 419.75,96.00 C418.63,98.67 417.81,101.33 416.90,104.00 C415.99,106.67 415.07,109.33 414.30,112.00 C413.53,114.67 413.02,117.33 412.30,120.00 C411.58,122.67 410.80,125.33 410.00,128.00 C409.20,130.67 408.60,133.33 407.50,136.00 C406.40,138.67 404.90,141.75 403.40,144.00 C401.90,146.25 400.28,148.23 398.50,149.50 C396.72,150.77 394.87,150.88 392.70,151.60 C390.53,152.32 387.32,153.03 385.50,153.80 C383.68,154.57 383.02,155.10 381.80,156.20 C380.58,157.30 379.42,158.98 378.20,160.40 C376.98,161.82 375.95,163.25 374.50,164.70 C373.05,166.15 371.92,167.32 369.50,169.10 C367.08,170.88 363.98,173.83 360.00,175.40 C356.02,176.97 352.27,177.10 345.60,178.50 C338.93,179.90 329.80,182.50 320.00,183.80 C310.20,185.10 295.97,185.52 286.80,186.30 C277.63,187.08 270.93,187.85 265.00,188.50 C259.07,189.15 254.15,189.85 251.20,190.20 C248.25,190.55 248.80,190.23 247.30,190.60 C245.80,190.97 243.88,191.23 242.20,192.40 C240.52,193.57 238.03,196.73 237.20,197.60" fill="none" stroke="#ff0000" stroke-width="2.0" stroke-linecap="round" stroke-linejoin="round"/>
<path d="M241.40,202.70 C243.67,202.55 250.23,202.15 255.00,201.80 C259.77,201.45 264.67,201.07 270.00,200.60 C275.33,200.13 278.67,199.58 287.00,199.00 C295.33,198.42 310.23,197.73 320.00,197.10 C329.77,196.47 338.93,195.72 345.60,195.20 C352.27,194.68 356.05,194.37 360.00,194.00 C363.95,193.63 366.30,193.57 369.30,193.00 C372.30,192.43 375.15,191.52 378.00,190.60 C380.85,189.68 383.73,188.70 386.40,187.50 C389.07,186.30 392.02,184.75 394.00,183.40 C395.98,182.05 396.96,180.97 398.30,179.40 C399.64,177.83 400.85,175.90 402.07,174.00 C403.29,172.10 404.51,170.00 405.64,168.00 C406.77,166.00 407.81,164.00 408.83,162.00 C409.85,160.00 410.81,158.00 411.74,156.00 C412.68,154.00 413.56,152.00 414.44,150.00 C415.31,148.00 416.16,146.00 416.99,144.00 C417.82,142.00 418.63,140.00 419.43,138.00 C420.23,136.00 421.00,134.00 421.76,132.00 C422.52,130.00 423.26,128.00 423.98,126.00 C424.70,124.00 425.40,122.00 426.06,120.00 C426.72,118.00 427.36,116.00 427.94,114.00 C428.52,112.00 429.08,110.00 429.56,108.00 C430.04,106.00 430.46,104.00 430.80,102.00 C431.14,100.00 431.35,98.33 431.60,96.00 C431.85,93.67 432.03,90.93 432.30,88.00 C432.57,85.07 433.45,79.20 433.20,78.40 C432.95,77.60 431.60,81.60 430.80,83.20 C430.00,84.80 429.57,85.87 428.40,88.00 C427.23,90.13 425.23,93.33 423.80,96.00 C422.37,98.67 421.07,101.33 419.80,104.00 C418.53,106.67 417.28,109.33 416.20,112.00 C415.12,114.67 414.20,117.33 413.30,120.00 C412.40,122.67 411.55,125.33 410.80,128.00 C410.05,130.67 409.68,133.33 408.80,136.00 C407.92,138.67 406.70,141.47 405.50,144.00 C404.30,146.53 402.77,149.45 401.60,151.20 C400.43,152.95 399.62,153.33 398.50,154.50 C397.38,155.67 396.47,157.03 394.90,158.20 C393.33,159.37 391.28,160.43 389.10,161.50 C386.92,162.57 384.23,163.55 381.80,164.60 C379.37,165.65 376.92,166.67 374.50,167.80 C372.08,168.93 369.72,170.30 367.30,171.40 C364.88,172.50 363.62,173.37 360.00,174.40 C356.38,175.43 350.13,176.65 345.60,177.60 C341.07,178.55 337.07,179.27 332.80,180.10 C328.53,180.93 327.67,181.73 320.00,182.60 C312.33,183.47 295.13,184.58 286.80,185.30 C278.47,186.02 274.70,186.55 270.00,186.90 C265.30,187.25 261.87,187.12 258.60,187.40 C255.33,187.68 252.95,188.15 250.40,188.60 C247.85,189.05 244.48,189.85 243.30,190.10" fill="none" stroke="#7000ff" stroke-width="2.0" stroke-linecap="round" stroke-linejoin="round"/>
<line x1="320" y1="37.4" x2="320" y2="418.8" stroke="#000" stroke-width="2"/>
<line x1="312" y1="45.5" x2="320" y2="45.5" stroke="#000" stroke-width="2"/>
<line x1="312" y1="118.6" x2="320" y2="118.6" stroke="#000" stroke-width="2"/>
<line x1="312" y1="264.8" x2="320" y2="264.8" stroke="#000" stroke-width="2"/>
<line x1="312" y1="337.9" x2="320" y2="337.9" stroke="#000" stroke-width="2"/>
<line x1="312" y1="411.0" x2="320" y2="411.0" stroke="#000" stroke-width="2"/>
<line x1="316" y1="82.0" x2="320" y2="82.0" stroke="#000" stroke-width="2"/>
<line x1="316" y1="155.1" x2="320" y2="155.1" stroke="#000" stroke-width="2"/>
<line x1="316" y1="228.2" x2="320" y2="228.2" stroke="#000" stroke-width="2"/>
<line x1="316" y1="301.3" x2="320" y2="301.3" stroke="#000" stroke-width="2"/>
<line x1="316" y1="374.4" x2="320" y2="374.4" stroke="#000" stroke-width="2"/>
<rect x="28.7" y="38.4" width="90.4" height="74.2" fill="#fff" stroke="#4a4a4a" stroke-width="1.4"/>
<line x1="30.8" y1="51.70" x2="73" y2="51.70" stroke="#7000ff" stroke-width="2.4" stroke-dasharray="8.8 7.7"/>
<text x="80.5" y="57.6" font-family="'Liberation Sans', Arial, sans-serif" fill="#000" stroke="#000" stroke-width="0.3" font-size="19">Nd1</text>
<line x1="30.8" y1="75.35" x2="73" y2="75.35" stroke="#008000" stroke-width="2.4" stroke-dasharray="8.8 7.7"/>
<text x="80.5" y="81.2" font-family="'Liberation Sans', Arial, sans-serif" fill="#000" stroke="#000" stroke-width="0.3" font-size="19">Nd2</text>
<line x1="30.8" y1="99.00" x2="73" y2="99.00" stroke="#ff0000" stroke-width="2.4" stroke-dasharray="8.8 7.7"/>
<text x="80.5" y="104.8" font-family="'Liberation Sans', Arial, sans-serif" fill="#000" stroke="#000" stroke-width="0.3" font-size="19">Nd3</text>
</svg></body></html>
